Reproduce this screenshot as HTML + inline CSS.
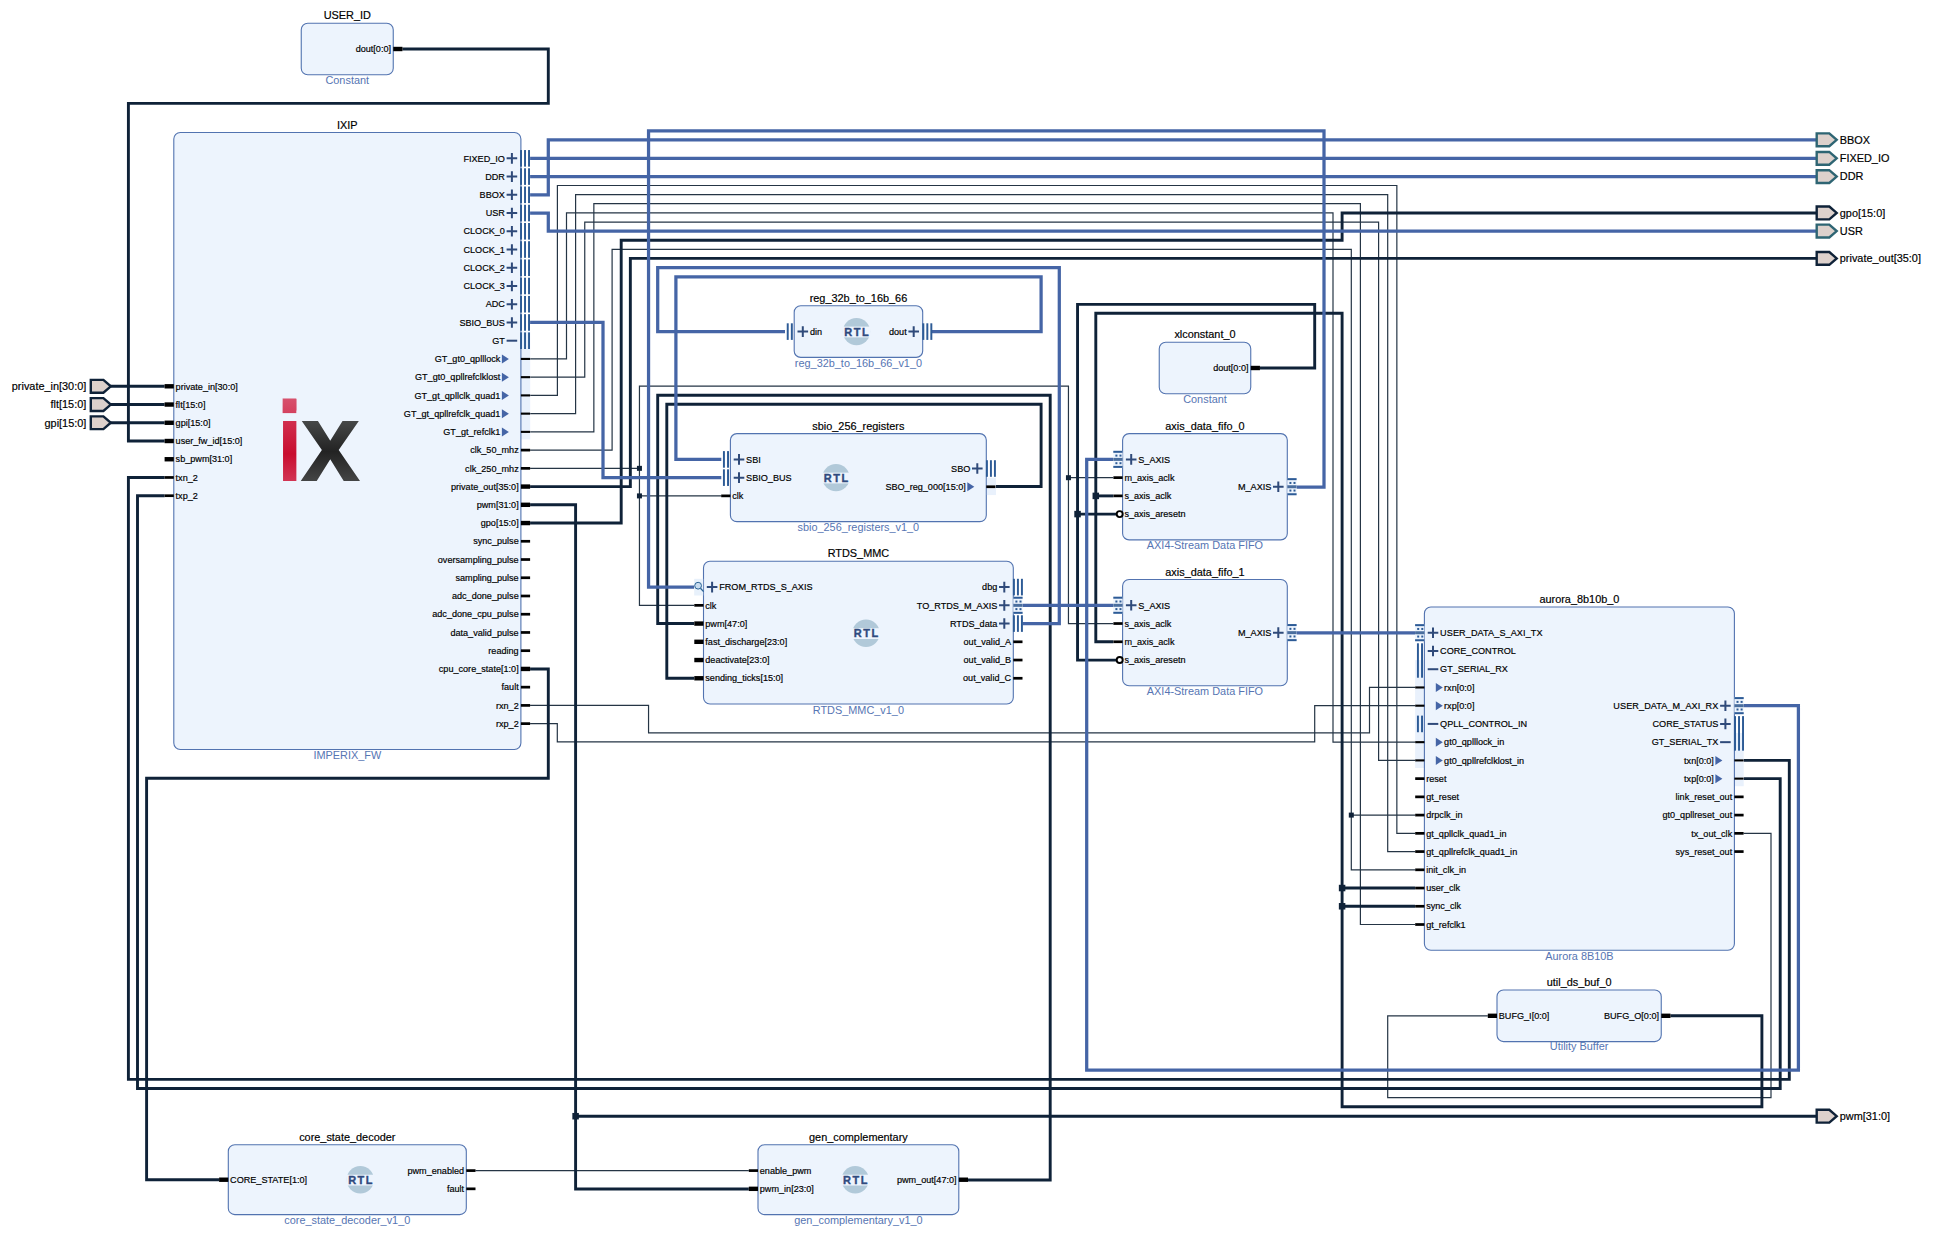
<!DOCTYPE html>
<html><head><meta charset="utf-8"><title>Block Design</title>
<style>
html,body{margin:0;padding:0;background:#fff}
svg{display:block}
text{font-family:"Liberation Sans",Arial,sans-serif;fill:#000}
.p,.t{stroke:#000;stroke-width:0.18px}
.t{font-size:10.9px}
.l{font-size:10.9px;fill:#5675b3}
.p{font-size:9.1px}
.rtl{font-size:11px;font-weight:bold;fill:#2f4a7e;stroke:#2f4a7e;stroke-width:0.35px;letter-spacing:1.5px}
.logo{font-size:113px;font-weight:bold}
.blk{fill:#edf4fd;stroke:#5273b0;stroke-width:1.1}
.ic{stroke:#2f4a7a;stroke-width:2;fill:none}
.tr{fill:#4565a6}
.sb{fill:#000}
.br{fill:#2d5b96}
.wb{stroke:#0f2238;stroke-width:2.9}
.wi{stroke:#4565a6;stroke-width:3.25}
.wn{stroke:#253545;stroke-width:1.2}
.xp{fill:#ddd1cc;stroke:#0f2238;stroke-width:2.4}
.xt{fill:#ddd1cc;stroke:#2e6573;stroke-width:2.4}
</style></head>
<body>
<svg width="1935" height="1239" viewBox="0 0 1935 1239">
<rect width="1935" height="1239" fill="#fff"/>
<g fill="none" stroke-linejoin="miter" stroke-linecap="butt">
<path d="M530.1 358.93 566.5 358.93 566.5 212.95 1333 212.95 1333 742.16 1415.1 742.16" class="wn"/>
<path d="M530.1 377.17 584.75 377.17 584.75 222.1 1378.6 222.1 1378.6 760.39 1415.1 760.39" class="wn"/>
<path d="M530.1 395.4 557.4 395.4 557.4 185.5 1396.85 185.5 1396.85 833.34 1415.1 833.34" class="wn"/>
<path d="M530.1 413.64 575.6 413.64 575.6 194.6 1387.7 194.6 1387.7 851.57 1415.1 851.57" class="wn"/>
<path d="M530.1 431.88 593.85 431.88 593.85 203.7 1360.4 203.7 1360.4 924.51 1415.1 924.51" class="wn"/>
<path d="M530.1 450.11 612.1 450.11 612.1 249.3 1351.3 249.3 1351.3 869.81 1415.1 869.81" class="wn"/>
<path d="M1351.3 815.1 1415.1 815.1" class="wn"/>
<path d="M530.1 468.35 639.45 468.35" class="wn"/>
<path d="M694.2 605.3 639.45 605.3 639.45 386.1 1068.45 386.1 1068.45 623.7 1113.3 623.7" class="wn"/>
<path d="M639.45 495.9 721.3 495.9" class="wn"/>
<path d="M1068.45 477.7 1113.3 477.7" class="wn"/>
<path d="M530.1 705.4 648.55 705.4 648.55 732.8 1369.5 732.8 1369.5 687.46 1415.1 687.46" class="wn"/>
<path d="M530.1 723.63 557.3 723.63 557.3 741.9 1314.7 741.9 1314.7 705.69 1415.1 705.69" class="wn"/>
<path d="M1743.6 833.34 1771 833.34 1771 1097.7 1387.7 1097.7 1387.7 1015.8 1487.8 1015.8" class="wn"/>
<path d="M475.4 1170.6 748.8 1170.6" class="wn"/>
<path d="M402.4 49 548.3 49 548.3 103.35 128.4 103.35 128.4 441 164.6 441" class="wb"/>
<path d="M110.2 386.3 164.6 386.3" class="wb"/>
<path d="M110.2 404.54 164.6 404.54" class="wb"/>
<path d="M110.2 422.77 164.6 422.77" class="wb"/>
<path d="M164.6 477.48 128.4 477.48 128.4 1079.4 1789.3 1079.4 1789.3 760.39 1743.6 760.39" class="wb"/>
<path d="M164.6 495.71 137.5 495.71 137.5 1088.5 1780.2 1088.5 1780.2 778.63 1743.6 778.63" class="wb"/>
<path d="M530.1 668.93 548.3 668.93 548.3 778.3 146.6 778.3 146.6 1179.7 219.1 1179.7" class="wb"/>
<path d="M530.1 523.05 621.2 523.05 621.2 240.2 1342.1 240.2 1342.1 212.95 1816 212.95" class="wb"/>
<path d="M530.1 486.58 630.35 486.58 630.35 258.4 1816 258.4" class="wb"/>
<path d="M530.1 504.81 575.6 504.81 575.6 1189 748.8 1189" class="wb"/>
<path d="M575.6 1116.2 1816 1116.2" class="wb"/>
<path d="M967.9 1180 1050.2 1180 1050.2 395.3 657.7 395.3 657.7 623.55 694.2 623.55" class="wb"/>
<path d="M995.4 486.5 1041.1 486.5 1041.1 404.3 666.8 404.3 666.8 678.3 694.2 678.3" class="wb"/>
<path d="M1259.9 368 1314.7 368 1314.7 304.4 1077.55 304.4 1077.55 660.1 1117 660.1" class="wb"/>
<path d="M1077.55 514.1 1117 514.1" class="wb"/>
<path d="M1670.4 1015.8 1761.9 1015.8 1761.9 1106.8 1342.1 1106.8 1342.1 313.3 1095.8 313.3 1095.8 641.7 1113.3 641.7" class="wb"/>
<path d="M1342.1 888.04 1415.1 888.04" class="wb"/>
<path d="M1342.1 906.27 1415.1 906.27" class="wb"/>
<path d="M1095.8 495.9 1113.3 495.9" class="wb"/>
<path d="M530.1 158.35 1816 158.35" class="wi"/>
<path d="M530.1 176.58 1816 176.58" class="wi"/>
<path d="M530.1 194.82 548.3 194.82 548.3 139.8 1816 139.8" class="wi"/>
<path d="M530.1 213.06 548.3 213.06 548.3 231.05 1816 231.05" class="wi"/>
<path d="M530.1 322.47 603 322.47 603 477.65 721.3 477.65" class="wi"/>
<path d="M1296.5 487 1324 487 1324 130.75 648.55 130.75 648.55 587.1 694.2 587.1" class="wi"/>
<path d="M1022.5 623.55 1059.3 623.55 1059.3 267.6 657.7 267.6 657.7 331.6 785 331.6" class="wi"/>
<path d="M931.9 331.6 1041.1 331.6 1041.1 276.8 675.9 276.8 675.9 459.4 721.3 459.4" class="wi"/>
<path d="M1022.5 605.3 1113.3 605.3" class="wi"/>
<path d="M1296.5 632.75 1415.1 632.75" class="wi"/>
<path d="M1743.6 705.69 1798.4 705.69 1798.4 1070.2 1086.7 1070.2 1086.7 459.4 1113.3 459.4" class="wi"/>
</g>
<rect x="572.35" y="1112.95" width="6.5" height="6.5" fill="#0f2238"/>
<rect x="1074.3" y="510.85" width="6.5" height="6.5" fill="#0f2238"/>
<rect x="1338.85" y="884.79" width="6.5" height="6.5" fill="#0f2238"/>
<rect x="1338.85" y="903.02" width="6.5" height="6.5" fill="#0f2238"/>
<rect x="1092.55" y="492.65" width="6.5" height="6.5" fill="#0f2238"/>
<rect x="1348.8" y="812.6" width="5" height="5" fill="#0f2238"/>
<rect x="636.95" y="465.85" width="5" height="5" fill="#0f2238"/>
<rect x="636.95" y="493.4" width="5" height="5" fill="#0f2238"/>
<rect x="1065.95" y="475.2" width="5" height="5" fill="#0f2238"/>
<rect x="520.9" y="331.58" width="9.3" height="107.89" fill="#e9f1fc"/>
<rect x="1415.1" y="660.1" width="9.3" height="107.89" fill="#e9f1fc"/>
<rect x="1734.4" y="733.04" width="9.3" height="53.19" fill="#e9f1fc"/>
<rect x="301.25" y="23.2" width="92" height="51.6" rx="6.5" class="blk"/>
<text x="347.25" y="18.6" class="t" text-anchor="middle">USER_ID</text>
<text x="347.25" y="84.4" class="l" text-anchor="middle">Constant</text>
<rect x="393.25" y="46.8" width="9.2" height="4.4" class="sb"/>
<text x="391.05" y="52.2" class="p" text-anchor="end">dout[0:0]</text>
<rect x="173.8" y="132.55" width="347.1" height="616.88" rx="6.5" class="blk"/>
<text x="347.35" y="128.85" class="t" text-anchor="middle">IXIP</text>
<text x="347.35" y="759.03" class="l" text-anchor="middle">IMPERIX_FW</text>
<rect x="520.05" y="150.05" width="1.95" height="16.6" class="br"/>
<rect x="524.05" y="150.05" width="1.95" height="16.6" class="br"/>
<rect x="528.05" y="150.05" width="1.95" height="16.6" class="br"/>
<path d="M506.6 158.35h10.6M511.9 153.05v10.6" class="ic"/>
<text x="504.9" y="161.55" class="p" text-anchor="end">FIXED_IO</text>
<rect x="520.05" y="168.28" width="1.95" height="16.6" class="br"/>
<rect x="524.05" y="168.28" width="1.95" height="16.6" class="br"/>
<rect x="528.05" y="168.28" width="1.95" height="16.6" class="br"/>
<path d="M506.6 176.58h10.6M511.9 171.28v10.6" class="ic"/>
<text x="504.9" y="179.78" class="p" text-anchor="end">DDR</text>
<rect x="520.05" y="186.52" width="1.95" height="16.6" class="br"/>
<rect x="524.05" y="186.52" width="1.95" height="16.6" class="br"/>
<rect x="528.05" y="186.52" width="1.95" height="16.6" class="br"/>
<path d="M506.6 194.82h10.6M511.9 189.52v10.6" class="ic"/>
<text x="504.9" y="198.02" class="p" text-anchor="end">BBOX</text>
<rect x="520.05" y="204.75" width="1.95" height="16.6" class="br"/>
<rect x="524.05" y="204.75" width="1.95" height="16.6" class="br"/>
<rect x="528.05" y="204.75" width="1.95" height="16.6" class="br"/>
<path d="M506.6 213.06h10.6M511.9 207.75v10.6" class="ic"/>
<text x="504.9" y="216.25" class="p" text-anchor="end">USR</text>
<rect x="520.05" y="222.99" width="1.95" height="16.6" class="br"/>
<rect x="524.05" y="222.99" width="1.95" height="16.6" class="br"/>
<rect x="528.05" y="222.99" width="1.95" height="16.6" class="br"/>
<path d="M506.6 231.29h10.6M511.9 225.99v10.6" class="ic"/>
<text x="504.9" y="234.49" class="p" text-anchor="end">CLOCK_0</text>
<rect x="520.05" y="241.22" width="1.95" height="16.6" class="br"/>
<rect x="524.05" y="241.22" width="1.95" height="16.6" class="br"/>
<rect x="528.05" y="241.22" width="1.95" height="16.6" class="br"/>
<path d="M506.6 249.52h10.6M511.9 244.22v10.6" class="ic"/>
<text x="504.9" y="252.72" class="p" text-anchor="end">CLOCK_1</text>
<rect x="520.05" y="259.46" width="1.95" height="16.6" class="br"/>
<rect x="524.05" y="259.46" width="1.95" height="16.6" class="br"/>
<rect x="528.05" y="259.46" width="1.95" height="16.6" class="br"/>
<path d="M506.6 267.76h10.6M511.9 262.46v10.6" class="ic"/>
<text x="504.9" y="270.96" class="p" text-anchor="end">CLOCK_2</text>
<rect x="520.05" y="277.69" width="1.95" height="16.6" class="br"/>
<rect x="524.05" y="277.69" width="1.95" height="16.6" class="br"/>
<rect x="528.05" y="277.69" width="1.95" height="16.6" class="br"/>
<path d="M506.6 286h10.6M511.9 280.69v10.6" class="ic"/>
<text x="504.9" y="289.19" class="p" text-anchor="end">CLOCK_3</text>
<rect x="520.05" y="295.93" width="1.95" height="16.6" class="br"/>
<rect x="524.05" y="295.93" width="1.95" height="16.6" class="br"/>
<rect x="528.05" y="295.93" width="1.95" height="16.6" class="br"/>
<path d="M506.6 304.23h10.6M511.9 298.93v10.6" class="ic"/>
<text x="504.9" y="307.43" class="p" text-anchor="end">ADC</text>
<rect x="520.05" y="314.17" width="1.95" height="16.6" class="br"/>
<rect x="524.05" y="314.17" width="1.95" height="16.6" class="br"/>
<rect x="528.05" y="314.17" width="1.95" height="16.6" class="br"/>
<path d="M506.6 322.47h10.6M511.9 317.17v10.6" class="ic"/>
<text x="504.9" y="325.67" class="p" text-anchor="end">SBIO_BUS</text>
<rect x="520.05" y="332.4" width="1.95" height="16.6" class="br"/>
<rect x="524.05" y="332.4" width="1.95" height="16.6" class="br"/>
<rect x="528.05" y="332.4" width="1.95" height="16.6" class="br"/>
<path d="M506.6 340.7h10.6" class="ic"/>
<text x="504.9" y="343.9" class="p" text-anchor="end">GT</text>
<rect x="520.9" y="357.88" width="9.2" height="2.1" class="sb"/>
<path d="M501.9 354.43v9l7 -4.5z" class="tr"/>
<text x="500.4" y="362.13" class="p" text-anchor="end">GT_gt0_qplllock</text>
<rect x="520.9" y="376.12" width="9.2" height="2.1" class="sb"/>
<path d="M501.9 372.67v9l7 -4.5z" class="tr"/>
<text x="500.4" y="380.37" class="p" text-anchor="end">GT_gt0_qpllrefclklost</text>
<rect x="520.9" y="394.35" width="9.2" height="2.1" class="sb"/>
<path d="M501.9 390.9v9l7 -4.5z" class="tr"/>
<text x="500.4" y="398.6" class="p" text-anchor="end">GT_gt_qpllclk_quad1</text>
<rect x="520.9" y="412.59" width="9.2" height="2.1" class="sb"/>
<path d="M501.9 409.14v9l7 -4.5z" class="tr"/>
<text x="500.4" y="416.84" class="p" text-anchor="end">GT_gt_qpllrefclk_quad1</text>
<rect x="520.9" y="430.82" width="9.2" height="2.1" class="sb"/>
<path d="M501.9 427.38v9l7 -4.5z" class="tr"/>
<text x="500.4" y="435.07" class="p" text-anchor="end">GT_gt_refclk1</text>
<rect x="520.9" y="448.76" width="9.2" height="2.7" class="sb"/>
<text x="518.7" y="453.31" class="p" text-anchor="end">clk_50_mhz</text>
<rect x="520.9" y="467" width="9.2" height="2.7" class="sb"/>
<text x="518.7" y="471.55" class="p" text-anchor="end">clk_250_mhz</text>
<rect x="520.9" y="484.38" width="9.2" height="4.4" class="sb"/>
<text x="518.7" y="489.78" class="p" text-anchor="end">private_out[35:0]</text>
<rect x="520.9" y="502.61" width="9.2" height="4.4" class="sb"/>
<text x="518.7" y="508.01" class="p" text-anchor="end">pwm[31:0]</text>
<rect x="520.9" y="520.85" width="9.2" height="4.4" class="sb"/>
<text x="518.7" y="526.25" class="p" text-anchor="end">gpo[15:0]</text>
<rect x="520.9" y="539.93" width="9.2" height="2.7" class="sb"/>
<text x="518.7" y="544.49" class="p" text-anchor="end">sync_pulse</text>
<rect x="520.9" y="558.17" width="9.2" height="2.7" class="sb"/>
<text x="518.7" y="562.72" class="p" text-anchor="end">oversampling_pulse</text>
<rect x="520.9" y="576.4" width="9.2" height="2.7" class="sb"/>
<text x="518.7" y="580.96" class="p" text-anchor="end">sampling_pulse</text>
<rect x="520.9" y="594.64" width="9.2" height="2.7" class="sb"/>
<text x="518.7" y="599.19" class="p" text-anchor="end">adc_done_pulse</text>
<rect x="520.9" y="612.88" width="9.2" height="2.7" class="sb"/>
<text x="518.7" y="617.43" class="p" text-anchor="end">adc_done_cpu_pulse</text>
<rect x="520.9" y="631.11" width="9.2" height="2.7" class="sb"/>
<text x="518.7" y="635.66" class="p" text-anchor="end">data_valid_pulse</text>
<rect x="520.9" y="649.34" width="9.2" height="2.7" class="sb"/>
<text x="518.7" y="653.89" class="p" text-anchor="end">reading</text>
<rect x="520.9" y="666.73" width="9.2" height="4.4" class="sb"/>
<text x="518.7" y="672.13" class="p" text-anchor="end">cpu_core_state[1:0]</text>
<rect x="520.9" y="685.81" width="9.2" height="2.7" class="sb"/>
<text x="518.7" y="690.37" class="p" text-anchor="end">fault</text>
<rect x="520.9" y="704.05" width="9.2" height="2.7" class="sb"/>
<text x="518.7" y="708.6" class="p" text-anchor="end">rxn_2</text>
<rect x="520.9" y="722.28" width="9.2" height="2.7" class="sb"/>
<text x="518.7" y="726.84" class="p" text-anchor="end">rxp_2</text>
<rect x="164.6" y="384.1" width="9.2" height="4.4" class="sb"/>
<text x="175.6" y="389.5" class="p">private_in[30:0]</text>
<rect x="164.6" y="402.34" width="9.2" height="4.4" class="sb"/>
<text x="175.6" y="407.74" class="p">flt[15:0]</text>
<rect x="164.6" y="420.57" width="9.2" height="4.4" class="sb"/>
<text x="175.6" y="425.97" class="p">gpi[15:0]</text>
<rect x="164.6" y="438.81" width="9.2" height="4.4" class="sb"/>
<text x="175.6" y="444.2" class="p">user_fw_id[15:0]</text>
<rect x="164.6" y="457.04" width="9.2" height="4.4" class="sb"/>
<text x="175.6" y="462.44" class="p">sb_pwm[31:0]</text>
<rect x="164.6" y="476.12" width="9.2" height="2.7" class="sb"/>
<text x="175.6" y="480.68" class="p">txn_2</text>
<rect x="164.6" y="494.36" width="9.2" height="2.7" class="sb"/>
<text x="175.6" y="498.91" class="p">txp_2</text>
<defs><linearGradient id="gi" x1="0" y1="0" x2="0" y2="1"><stop offset="0" stop-color="#da6983"/><stop offset="0.27" stop-color="#d5405e"/><stop offset="0.29" stop-color="#d23453"/><stop offset="0.6" stop-color="#c80d2f"/><stop offset="0.82" stop-color="#d23554"/><stop offset="1" stop-color="#d23554"/></linearGradient><linearGradient id="gd" x1="0" y1="0" x2="0" y2="1"><stop offset="0" stop-color="#da6983"/><stop offset="1" stop-color="#d33f5d"/></linearGradient><linearGradient id="gx" x1="0" y1="0" x2="0" y2="1"><stop offset="0" stop-color="#4c4e4e"/><stop offset="0.3" stop-color="#4c4e4e"/><stop offset="0.58" stop-color="#232323"/><stop offset="0.82" stop-color="#454646"/><stop offset="1" stop-color="#454646"/></linearGradient></defs>
<rect x="282.6" y="398.4" width="13.7" height="14.7" fill="url(#gd)"/>
<text x="0" y="0" class="logo" style="fill:url(#gi)" transform="translate(276.3 480.5) scale(0.86 1)">i</text>
<text x="0" y="0" class="logo" style="fill:url(#gx)" transform="translate(300 480.5) scale(0.967 1)">x</text>
<rect x="794.2" y="305.8" width="128.5" height="51.6" rx="6.5" class="blk"/>
<text x="858.45" y="302.1" class="t" text-anchor="middle">reg_32b_to_16b_66</text>
<text x="858.45" y="367" class="l" text-anchor="middle">reg_32b_to_16b_66_v1_0</text>
<rect x="786.75" y="323.3" width="1.95" height="16.6" class="br"/>
<rect x="790.85" y="323.3" width="1.95" height="16.6" class="br"/>
<path d="M797.5 331.6h10.6M802.8 326.3v10.6" class="ic"/>
<text x="809.9" y="334.8" class="p">din</text>
<rect x="922.35" y="323.3" width="1.95" height="16.6" class="br"/>
<rect x="926.35" y="323.3" width="1.95" height="16.6" class="br"/>
<rect x="930.35" y="323.3" width="1.95" height="16.6" class="br"/>
<path d="M908.4 331.6h10.6M913.7 326.3v10.6" class="ic"/>
<text x="906.7" y="334.8" class="p" text-anchor="end">dout</text>
<circle cx="856.5" cy="331.6" r="13.7" fill="#b1c9d9"/>
<rect x="842.5" y="326.6" width="28" height="10.8" fill="#edf4fd"/>
<text x="857.3" y="335.9" class="rtl" text-anchor="middle">RTL</text>
<rect x="730.4" y="433.6" width="255.9" height="88.07" rx="6.5" class="blk"/>
<text x="858.35" y="429.9" class="t" text-anchor="middle">sbio_256_registers</text>
<text x="858.35" y="531.27" class="l" text-anchor="middle">sbio_256_registers_v1_0</text>
<rect x="722.95" y="451.1" width="1.95" height="16.6" class="br"/>
<rect x="727.05" y="451.1" width="1.95" height="16.6" class="br"/>
<path d="M733.7 459.4h10.6M739 454.1v10.6" class="ic"/>
<text x="746.1" y="462.6" class="p">SBI</text>
<rect x="722.95" y="469.33" width="1.95" height="16.6" class="br"/>
<rect x="727.05" y="469.33" width="1.95" height="16.6" class="br"/>
<path d="M733.7 477.63h10.6M739 472.33v10.6" class="ic"/>
<text x="746.1" y="480.83" class="p">SBIO_BUS</text>
<rect x="721.2" y="494.52" width="9.2" height="2.7" class="sb"/>
<text x="732.2" y="499.07" class="p">clk</text>
<rect x="985.95" y="460.22" width="1.95" height="16.6" class="br"/>
<rect x="989.95" y="460.22" width="1.95" height="16.6" class="br"/>
<rect x="993.95" y="460.22" width="1.95" height="16.6" class="br"/>
<path d="M972 468.52h10.6M977.3 463.22v10.6" class="ic"/>
<text x="970.3" y="471.72" class="p" text-anchor="end">SBO</text>
<rect x="986.9" y="477.63" width="9.1" height="17.44" fill="#e9f1fc"/>
<rect x="986.3" y="485.4" width="9.2" height="2.7" class="sb"/>
<path d="M967.3 482.25v9l7 -4.5z" class="tr"/>
<text x="965.8" y="489.95" class="p" text-anchor="end">SBO_reg_000[15:0]</text>
<circle cx="836" cy="477.63" r="13.7" fill="#b1c9d9"/>
<rect x="822" y="472.63" width="28" height="10.8" fill="#edf4fd"/>
<text x="836.8" y="481.94" class="rtl" text-anchor="middle">RTL</text>
<rect x="703.5" y="561.3" width="309.8" height="142.77" rx="6.5" class="blk"/>
<text x="858.4" y="556.7" class="t" text-anchor="middle">RTDS_MMC</text>
<text x="858.4" y="713.67" class="l" text-anchor="middle">RTDS_MMC_v1_0</text>
<rect x="694.2" y="578.8" width="9" height="16.7" fill="#e8f1fb"/>
<path d="M706.8 587.1h10.6M712.1 581.8v10.6" class="ic"/>
<text x="719.2" y="590.3" class="p">FROM_RTDS_S_AXIS</text>
<circle cx="698.1" cy="585.7" r="3.4" fill="#c9dcef" stroke="#2a6496" stroke-width="1"/>
<path d="M700.5 588.3L703.6 591.6" stroke="#2a6496" stroke-width="1.3" fill="none"/>
<rect x="694.3" y="603.99" width="9.2" height="2.7" class="sb"/>
<text x="705.3" y="608.54" class="p">clk</text>
<rect x="694.3" y="621.37" width="9.2" height="4.4" class="sb"/>
<text x="705.3" y="626.77" class="p">pwm[47:0]</text>
<rect x="694.3" y="639.61" width="9.2" height="4.4" class="sb"/>
<text x="705.3" y="645.01" class="p">fast_discharge[23:0]</text>
<rect x="694.3" y="657.84" width="9.2" height="4.4" class="sb"/>
<text x="705.3" y="663.24" class="p">deactivate[23:0]</text>
<rect x="694.3" y="676.07" width="9.2" height="4.4" class="sb"/>
<text x="705.3" y="681.48" class="p">sending_ticks[15:0]</text>
<rect x="1012.95" y="578.8" width="1.95" height="16.6" class="br"/>
<rect x="1016.95" y="578.8" width="1.95" height="16.6" class="br"/>
<rect x="1020.95" y="578.8" width="1.95" height="16.6" class="br"/>
<path d="M999 587.1h10.6M1004.3 581.8v10.6" class="ic"/>
<text x="997.3" y="590.3" class="p" text-anchor="end">dbg</text>
<rect x="1013.3" y="596.84" width="9.3" height="17" fill="#edf4fd"/>
<rect x="1013.3" y="596.74" width="9.3" height="2" class="br"/>
<rect x="1013.3" y="611.84" width="9.3" height="2" class="br"/>
<rect x="1013.3" y="603.84" width="9.3" height="3" fill="#4a6e9e"/>
<rect x="1015.4" y="600.54" width="2" height="2" class="br"/>
<rect x="1015.4" y="608.13" width="2" height="2" class="br"/>
<rect x="1019.5" y="600.54" width="2" height="2" class="br"/>
<rect x="1019.5" y="608.13" width="2" height="2" class="br"/>
<path d="M999 605.34h10.6M1004.3 600.04v10.6" class="ic"/>
<text x="997.3" y="608.54" class="p" text-anchor="end">TO_RTDS_M_AXIS</text>
<rect x="1012.95" y="615.27" width="1.95" height="16.6" class="br"/>
<rect x="1016.95" y="615.27" width="1.95" height="16.6" class="br"/>
<rect x="1020.95" y="615.27" width="1.95" height="16.6" class="br"/>
<path d="M999 623.57h10.6M1004.3 618.27v10.6" class="ic"/>
<text x="997.3" y="626.77" class="p" text-anchor="end">RTDS_data</text>
<rect x="1013.3" y="640.46" width="9.2" height="2.7" class="sb"/>
<text x="1011.1" y="645.01" class="p" text-anchor="end">out_valid_A</text>
<rect x="1013.3" y="658.69" width="9.2" height="2.7" class="sb"/>
<text x="1011.1" y="663.24" class="p" text-anchor="end">out_valid_B</text>
<rect x="1013.3" y="676.92" width="9.2" height="2.7" class="sb"/>
<text x="1011.1" y="681.48" class="p" text-anchor="end">out_valid_C</text>
<circle cx="866" cy="633.19" r="13.7" fill="#b1c9d9"/>
<rect x="852" y="628.19" width="28" height="10.8" fill="#edf4fd"/>
<text x="866.8" y="637.49" class="rtl" text-anchor="middle">RTL</text>
<rect x="1159.25" y="342.2" width="91.5" height="51.6" rx="6.5" class="blk"/>
<text x="1205" y="337.6" class="t" text-anchor="middle">xlconstant_0</text>
<text x="1205" y="403.4" class="l" text-anchor="middle">Constant</text>
<rect x="1250.75" y="365.8" width="9.2" height="4.4" class="sb"/>
<text x="1248.55" y="371.2" class="p" text-anchor="end">dout[0:0]</text>
<rect x="1122.6" y="433.6" width="164.7" height="106.31" rx="6.5" class="blk"/>
<text x="1204.95" y="429.9" class="t" text-anchor="middle">axis_data_fifo_0</text>
<text x="1204.95" y="548.61" class="l" text-anchor="middle">AXI4-Stream Data FIFO</text>
<rect x="1113.3" y="450.9" width="9.3" height="17" fill="#edf4fd"/>
<rect x="1113.3" y="450.8" width="9.3" height="2" class="br"/>
<rect x="1113.3" y="465.9" width="9.3" height="2" class="br"/>
<rect x="1113.3" y="457.9" width="9.3" height="3" fill="#4a6e9e"/>
<rect x="1115.4" y="454.6" width="2" height="2" class="br"/>
<rect x="1115.4" y="462.2" width="2" height="2" class="br"/>
<rect x="1119.5" y="454.6" width="2" height="2" class="br"/>
<rect x="1119.5" y="462.2" width="2" height="2" class="br"/>
<path d="M1125.9 459.4h10.6M1131.2 454.1v10.6" class="ic"/>
<text x="1138.3" y="462.6" class="p">S_AXIS</text>
<rect x="1113.4" y="476.28" width="9.2" height="2.7" class="sb"/>
<text x="1124.4" y="480.83" class="p">m_axis_aclk</text>
<rect x="1113.4" y="494.52" width="9.2" height="2.7" class="sb"/>
<text x="1124.4" y="499.07" class="p">s_axis_aclk</text>
<text x="1124.4" y="517.31" class="p">s_axis_aresetn</text>
<circle cx="1119.7" cy="514.11" r="3" fill="#fff" stroke="#000" stroke-width="1.9"/>
<rect x="1287.3" y="478.25" width="9.3" height="17" fill="#edf4fd"/>
<rect x="1287.3" y="478.15" width="9.3" height="2" class="br"/>
<rect x="1287.3" y="493.25" width="9.3" height="2" class="br"/>
<rect x="1287.3" y="485.25" width="9.3" height="3" fill="#4a6e9e"/>
<rect x="1289.4" y="481.95" width="2" height="2" class="br"/>
<rect x="1289.4" y="489.55" width="2" height="2" class="br"/>
<rect x="1293.5" y="481.95" width="2" height="2" class="br"/>
<rect x="1293.5" y="489.55" width="2" height="2" class="br"/>
<path d="M1273 486.75h10.6M1278.3 481.45v10.6" class="ic"/>
<text x="1271.3" y="489.95" class="p" text-anchor="end">M_AXIS</text>
<rect x="1122.6" y="579.5" width="164.7" height="106.3" rx="6.5" class="blk"/>
<text x="1204.95" y="575.8" class="t" text-anchor="middle">axis_data_fifo_1</text>
<text x="1204.95" y="695.4" class="l" text-anchor="middle">AXI4-Stream Data FIFO</text>
<rect x="1113.3" y="596.8" width="9.3" height="17" fill="#edf4fd"/>
<rect x="1113.3" y="596.7" width="9.3" height="2" class="br"/>
<rect x="1113.3" y="611.8" width="9.3" height="2" class="br"/>
<rect x="1113.3" y="603.8" width="9.3" height="3" fill="#4a6e9e"/>
<rect x="1115.4" y="600.5" width="2" height="2" class="br"/>
<rect x="1115.4" y="608.1" width="2" height="2" class="br"/>
<rect x="1119.5" y="600.5" width="2" height="2" class="br"/>
<rect x="1119.5" y="608.1" width="2" height="2" class="br"/>
<path d="M1125.9 605.3h10.6M1131.2 600v10.6" class="ic"/>
<text x="1138.3" y="608.5" class="p">S_AXIS</text>
<rect x="1113.4" y="622.18" width="9.2" height="2.7" class="sb"/>
<text x="1124.4" y="626.74" class="p">s_axis_aclk</text>
<rect x="1113.4" y="640.42" width="9.2" height="2.7" class="sb"/>
<text x="1124.4" y="644.97" class="p">m_axis_aclk</text>
<text x="1124.4" y="663.21" class="p">s_axis_aresetn</text>
<circle cx="1119.7" cy="660" r="3" fill="#fff" stroke="#000" stroke-width="1.9"/>
<rect x="1287.3" y="624.15" width="9.3" height="17" fill="#edf4fd"/>
<rect x="1287.3" y="624.05" width="9.3" height="2" class="br"/>
<rect x="1287.3" y="639.15" width="9.3" height="2" class="br"/>
<rect x="1287.3" y="631.15" width="9.3" height="3" fill="#4a6e9e"/>
<rect x="1289.4" y="627.85" width="2" height="2" class="br"/>
<rect x="1289.4" y="635.45" width="2" height="2" class="br"/>
<rect x="1293.5" y="627.85" width="2" height="2" class="br"/>
<rect x="1293.5" y="635.45" width="2" height="2" class="br"/>
<path d="M1273 632.65h10.6M1278.3 627.35v10.6" class="ic"/>
<text x="1271.3" y="635.85" class="p" text-anchor="end">M_AXIS</text>
<rect x="1424.4" y="606.95" width="310" height="343.36" rx="6.5" class="blk"/>
<text x="1579.4" y="603.25" class="t" text-anchor="middle">aurora_8b10b_0</text>
<text x="1579.4" y="959.91" class="l" text-anchor="middle">Aurora 8B10B</text>
<rect x="1415.1" y="624.25" width="9.3" height="17" fill="#edf4fd"/>
<rect x="1415.1" y="624.15" width="9.3" height="2" class="br"/>
<rect x="1415.1" y="639.25" width="9.3" height="2" class="br"/>
<rect x="1415.1" y="631.25" width="9.3" height="3" fill="#4a6e9e"/>
<rect x="1417.2" y="627.95" width="2" height="2" class="br"/>
<rect x="1417.2" y="635.55" width="2" height="2" class="br"/>
<rect x="1421.3" y="627.95" width="2" height="2" class="br"/>
<rect x="1421.3" y="635.55" width="2" height="2" class="br"/>
<path d="M1427.7 632.75h10.6M1433 627.45v10.6" class="ic"/>
<text x="1440.1" y="635.95" class="p" style="letter-spacing:0.1px">USER_DATA_S_AXI_TX</text>
<path d="M1427.7 650.99h10.6M1433 645.69v10.6" class="ic"/>
<text x="1440.1" y="654.19" class="p">CORE_CONTROL</text>
<path d="M1427.7 669.22h10.6" class="ic"/>
<text x="1440.1" y="672.42" class="p">GT_SERIAL_RX</text>
<rect x="1416.95" y="643.29" width="1.95" height="34.43" class="br"/>
<rect x="1421.05" y="643.29" width="1.95" height="34.43" class="br"/>
<rect x="1415.2" y="686.41" width="9.2" height="2.1" class="sb"/>
<path d="M1435.8 682.96v9l7 -4.5z" class="tr"/>
<text x="1444.1" y="690.66" class="p">rxn[0:0]</text>
<rect x="1415.2" y="704.64" width="9.2" height="2.1" class="sb"/>
<path d="M1435.8 701.19v9l7 -4.5z" class="tr"/>
<text x="1444.1" y="708.89" class="p">rxp[0:0]</text>
<rect x="1416.95" y="715.62" width="1.95" height="16.6" class="br"/>
<rect x="1421.05" y="715.62" width="1.95" height="16.6" class="br"/>
<path d="M1427.7 723.92h10.6" class="ic"/>
<text x="1440.1" y="727.12" class="p">QPLL_CONTROL_IN</text>
<rect x="1415.2" y="741.11" width="9.2" height="2.1" class="sb"/>
<path d="M1435.8 737.66v9l7 -4.5z" class="tr"/>
<text x="1444.1" y="745.36" class="p">gt0_qplllock_in</text>
<rect x="1415.2" y="759.35" width="9.2" height="2.1" class="sb"/>
<path d="M1435.8 755.89v9l7 -4.5z" class="tr"/>
<text x="1444.1" y="763.6" class="p">gt0_qpllrefclklost_in</text>
<rect x="1415.2" y="777.28" width="9.2" height="2.7" class="sb"/>
<text x="1426.2" y="781.83" class="p">reset</text>
<rect x="1415.2" y="795.51" width="9.2" height="2.7" class="sb"/>
<text x="1426.2" y="800.07" class="p">gt_reset</text>
<rect x="1415.2" y="813.75" width="9.2" height="2.7" class="sb"/>
<text x="1426.2" y="818.3" class="p">drpclk_in</text>
<rect x="1415.2" y="831.99" width="9.2" height="2.7" class="sb"/>
<text x="1426.2" y="836.54" class="p">gt_qpllclk_quad1_in</text>
<rect x="1415.2" y="850.22" width="9.2" height="2.7" class="sb"/>
<text x="1426.2" y="854.77" class="p">gt_qpllrefclk_quad1_in</text>
<rect x="1415.2" y="868.46" width="9.2" height="2.7" class="sb"/>
<text x="1426.2" y="873.01" class="p">init_clk_in</text>
<rect x="1415.2" y="886.69" width="9.2" height="2.7" class="sb"/>
<text x="1426.2" y="891.24" class="p">user_clk</text>
<rect x="1415.2" y="904.92" width="9.2" height="2.7" class="sb"/>
<text x="1426.2" y="909.48" class="p">sync_clk</text>
<rect x="1415.2" y="923.16" width="9.2" height="2.7" class="sb"/>
<text x="1426.2" y="927.71" class="p">gt_refclk1</text>
<rect x="1734.4" y="697.19" width="9.3" height="17" fill="#edf4fd"/>
<rect x="1734.4" y="697.09" width="9.3" height="2" class="br"/>
<rect x="1734.4" y="712.19" width="9.3" height="2" class="br"/>
<rect x="1734.4" y="704.19" width="9.3" height="3" fill="#4a6e9e"/>
<rect x="1736.5" y="700.89" width="2" height="2" class="br"/>
<rect x="1736.5" y="708.49" width="2" height="2" class="br"/>
<rect x="1740.6" y="700.89" width="2" height="2" class="br"/>
<rect x="1740.6" y="708.49" width="2" height="2" class="br"/>
<path d="M1720.1 705.69h10.6M1725.4 700.39v10.6" class="ic"/>
<text x="1718.4" y="708.89" class="p" text-anchor="end" style="letter-spacing:0.1px">USER_DATA_M_AXI_RX</text>
<path d="M1720.1 723.92h10.6M1725.4 718.62v10.6" class="ic"/>
<text x="1718.4" y="727.12" class="p" text-anchor="end">CORE_STATUS</text>
<path d="M1720.1 742.16h10.6" class="ic"/>
<text x="1718.4" y="745.36" class="p" text-anchor="end">GT_SERIAL_TX</text>
<rect x="1734.05" y="716.12" width="1.95" height="34.53" class="br"/>
<rect x="1738.05" y="716.12" width="1.95" height="34.53" class="br"/>
<rect x="1742.05" y="716.12" width="1.95" height="34.53" class="br"/>
<rect x="1734.4" y="759.35" width="9.2" height="2.1" class="sb"/>
<path d="M1715.4 755.89v9l7 -4.5z" class="tr"/>
<text x="1713.9" y="763.6" class="p" text-anchor="end">txn[0:0]</text>
<rect x="1734.4" y="777.58" width="9.2" height="2.1" class="sb"/>
<path d="M1715.4 774.13v9l7 -4.5z" class="tr"/>
<text x="1713.9" y="781.83" class="p" text-anchor="end">txp[0:0]</text>
<rect x="1734.4" y="795.51" width="9.2" height="2.7" class="sb"/>
<text x="1732.2" y="800.07" class="p" text-anchor="end">link_reset_out</text>
<rect x="1734.4" y="813.75" width="9.2" height="2.7" class="sb"/>
<text x="1732.2" y="818.3" class="p" text-anchor="end">gt0_qpllreset_out</text>
<rect x="1734.4" y="831.99" width="9.2" height="2.7" class="sb"/>
<text x="1732.2" y="836.54" class="p" text-anchor="end">tx_out_clk</text>
<rect x="1734.4" y="850.22" width="9.2" height="2.7" class="sb"/>
<text x="1732.2" y="854.77" class="p" text-anchor="end">sys_reset_out</text>
<rect x="1497" y="990" width="164.25" height="51.6" rx="6.5" class="blk"/>
<text x="1579.12" y="986.3" class="t" text-anchor="middle">util_ds_buf_0</text>
<text x="1579.12" y="1050.4" class="l" text-anchor="middle">Utility Buffer</text>
<rect x="1487.8" y="1013.6" width="9.2" height="4.4" class="sb"/>
<text x="1498.8" y="1019" class="p">BUFG_I[0:0]</text>
<rect x="1661.25" y="1013.6" width="9.2" height="4.4" class="sb"/>
<text x="1659.05" y="1019" class="p" text-anchor="end">BUFG_O[0:0]</text>
<rect x="228.3" y="1144.8" width="238" height="69.83" rx="6.5" class="blk"/>
<text x="347.3" y="1141.1" class="t" text-anchor="middle">core_state_decoder</text>
<text x="347.3" y="1224.23" class="l" text-anchor="middle">core_state_decoder_v1_0</text>
<rect x="219.1" y="1177.52" width="9.2" height="4.4" class="sb"/>
<text x="230.1" y="1182.92" class="p">CORE_STATE[1:0]</text>
<rect x="466.3" y="1169.25" width="9.2" height="2.7" class="sb"/>
<text x="464.1" y="1173.8" class="p" text-anchor="end">pwm_enabled</text>
<rect x="466.3" y="1187.48" width="9.2" height="2.7" class="sb"/>
<text x="464.1" y="1192.03" class="p" text-anchor="end">fault</text>
<circle cx="360.3" cy="1179.72" r="13.7" fill="#b1c9d9"/>
<rect x="346.3" y="1174.72" width="28" height="10.8" fill="#edf4fd"/>
<text x="361.1" y="1184.02" class="rtl" text-anchor="middle">RTL</text>
<rect x="758" y="1144.8" width="200.8" height="69.83" rx="6.5" class="blk"/>
<text x="858.4" y="1141.1" class="t" text-anchor="middle">gen_complementary</text>
<text x="858.4" y="1224.23" class="l" text-anchor="middle">gen_complementary_v1_0</text>
<rect x="748.8" y="1169.25" width="9.2" height="2.7" class="sb"/>
<text x="759.8" y="1173.8" class="p">enable_pwm</text>
<rect x="748.8" y="1186.63" width="9.2" height="4.4" class="sb"/>
<text x="759.8" y="1192.03" class="p">pwm_in[23:0]</text>
<rect x="958.8" y="1177.52" width="9.2" height="4.4" class="sb"/>
<text x="956.6" y="1182.92" class="p" text-anchor="end">pwm_out[47:0]</text>
<circle cx="855.2" cy="1179.72" r="13.7" fill="#b1c9d9"/>
<rect x="841.2" y="1174.72" width="28" height="10.8" fill="#edf4fd"/>
<text x="856" y="1184.02" class="rtl" text-anchor="middle">RTL</text>
<path d="M1816.7 133.4h12.6l7.4 6.4l-7.4 6.4h-12.6z" class="xt"/>
<text x="1839.8" y="143.7" class="t">BBOX</text>
<path d="M1816.7 151.95h12.6l7.4 6.4l-7.4 6.4h-12.6z" class="xt"/>
<text x="1839.8" y="162.25" class="t">FIXED_IO</text>
<path d="M1816.7 170.18h12.6l7.4 6.4l-7.4 6.4h-12.6z" class="xt"/>
<text x="1839.8" y="180.48" class="t">DDR</text>
<path d="M1816.7 206.55h12.6l7.4 6.4l-7.4 6.4h-12.6z" class="xp"/>
<text x="1839.8" y="216.85" class="t">gpo[15:0]</text>
<path d="M1816.7 224.65h12.6l7.4 6.4l-7.4 6.4h-12.6z" class="xt"/>
<text x="1839.8" y="234.95" class="t">USR</text>
<path d="M1816.7 252h12.6l7.4 6.4l-7.4 6.4h-12.6z" class="xp"/>
<text x="1839.8" y="262.3" class="t">private_out[35:0]</text>
<path d="M1816.7 1109.8h12.6l7.4 6.4l-7.4 6.4h-12.6z" class="xp"/>
<text x="1839.8" y="1120.1" class="t">pwm[31:0]</text>
<path d="M90.8 379.9h12.6l7.4 6.4l-7.4 6.4h-12.6z" class="xp"/>
<text x="86.3" y="390.2" class="t" text-anchor="end">private_in[30:0]</text>
<path d="M90.8 398.14h12.6l7.4 6.4l-7.4 6.4h-12.6z" class="xp"/>
<text x="86.3" y="408.44" class="t" text-anchor="end">flt[15:0]</text>
<path d="M90.8 416.37h12.6l7.4 6.4l-7.4 6.4h-12.6z" class="xp"/>
<text x="86.3" y="426.67" class="t" text-anchor="end">gpi[15:0]</text>
</svg>
</body></html>
